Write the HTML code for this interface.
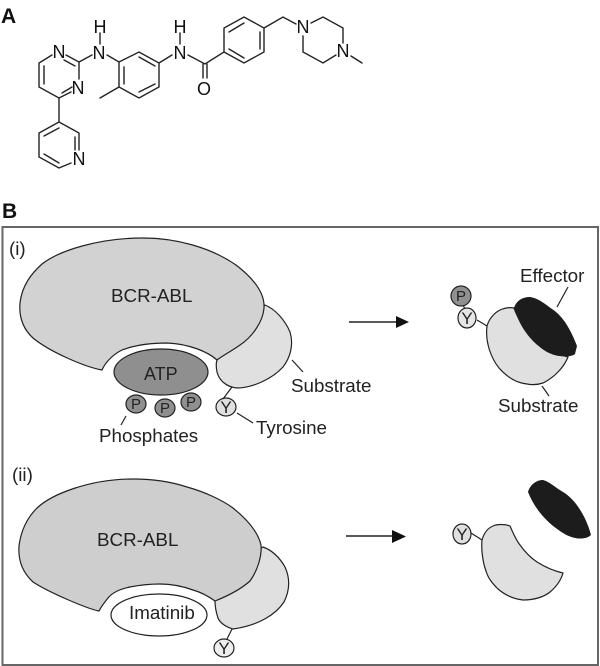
<!DOCTYPE html>
<html><head><meta charset="utf-8"><style>
html,body{margin:0;padding:0;background:#fff}
svg{display:block}
text{font-family:"Liberation Sans",sans-serif;fill:#222}
.t{font-size:18.8px}
.s{font-size:15px;text-anchor:middle}
.m{font-size:18px;text-anchor:middle;fill:#111}
.o{stroke:#222;stroke-width:1.2;stroke-linejoin:round}
.l{stroke:#222;stroke-width:1.2;fill:none}
.b{stroke:#222;stroke-width:1.4;fill:none;stroke-linecap:round}
</style></head><body>
<svg width="600" height="666" viewBox="0 0 600 666" xmlns="http://www.w3.org/2000/svg">
<rect width="600" height="666" fill="#fff"/>
<text x="1" y="23" style="font-size:21px;font-weight:bold;fill:#111">A</text>
<text x="2" y="218" style="font-size:21px;font-weight:bold;fill:#111">B</text>

<!-- molecule -->
<g class="b">
<path d="M52 55L39 63V87L59 98L71 92M66 55L79 62V79"/>
<path d="M44 66V84M64 60L75 66M62 93L72 87"/>
<path d="M79 62L92 55M107 55L119 62L139 52L159 63V87L139 98L119 87V62"/>
<path d="M124 67V84M139 57L155 66M139 92L155 84M119 87L100 98"/>
<path d="M100 33V44M180 33V44M159 63L172 55M188 55L205 64L224 52V28L244 17L264 28V52L244 63L224 52"/>
<path d="M229 32L244 23M260 32V49M229 49L244 58"/>
<path d="M203 64V78M207 64V78"/>
<path d="M264 28L283 17L296 24M311 23L323 17L343 28V43M336 55L323 63L303 52V36M351 56L362 63"/>
<path d="M59 98V122L79 133V150M71 163L59 168L39 157V133L59 122"/>
<path d="M75 137V150M44 136L59 128M44 154L59 163"/>
</g>
<text class="m" x="59" y="58">N</text>
<text class="m" x="78" y="94">N</text>
<text class="m" x="99" y="59">N</text>
<text class="m" x="100" y="33">H</text>
<text class="m" x="180" y="59">N</text>
<text class="m" x="180" y="33">H</text>
<text class="m" x="204" y="95">O</text>
<text class="m" x="303" y="33">N</text>
<text class="m" x="343" y="57">N</text>
<text class="m" x="79" y="165">N</text>

<rect x="2.5" y="227" width="595.5" height="438" fill="none" stroke="#666" stroke-width="2"/>
<text class="t" x="9" y="255">(i)</text>
<text class="t" x="12" y="481">(ii)</text>

<!-- (i) -->
<path class="o" fill="#e0e0e0" d="M265 305C275 309 285 320 290 332C294 345 290 358 283 367C272 379 252 388 237 388C226 387 219 380 217 372C216 367 216 363 217 360L240 330Z"/>
<path class="o" fill="#d2d2d2" d="M102 370C85 367 50 352 33 338C22 328 19 315 20 303C22 285 32 273 42 264C60 250 100 238 143 238C175 238 210 247 236 265C253 278 265 293 264 308C263 322 252 337 240 345C230 352 222 356 217 360C208 352 190 344 167 343C150 343 135 345 122 350C112 355 105 363 102 370Z"/>
<ellipse class="o" fill="#8f8f8f" cx="161" cy="372" rx="47" ry="23"/>
<ellipse class="o" fill="#8f8f8f" cx="136" cy="404" rx="10" ry="9"/>
<ellipse class="o" fill="#8f8f8f" cx="165" cy="408" rx="10" ry="9"/>
<ellipse class="o" fill="#8f8f8f" cx="191" cy="402" rx="10" ry="9"/>
<ellipse class="o" fill="#e0e0e0" cx="226" cy="407" rx="10" ry="9"/>
<path class="l" d="M232 387L223 399M237 413L253 423M126 416L121 425M292 360L303 372"/>
<text class="s" x="136" y="409">P</text>
<text class="s" x="165" y="413">P</text>
<text class="s" x="191" y="407">P</text>
<text class="s" x="226" y="413" style="font-size:17px">Y</text>
<text class="t" x="111" y="302">BCR-ABL</text>
<text class="t" x="144" y="380" style="font-size:18px">ATP</text>
<text class="t" x="99" y="442">Phosphates</text>
<text class="t" x="256" y="434">Tyrosine</text>
<text class="t" x="291" y="392">Substrate</text>

<path class="l" d="M349 322H397" style="stroke-width:1.4"/>
<path d="M396 316L409 322L396 328Z" fill="#111"/>

<path class="o" fill="#e0e0e0" d="M487 326C489 319 494 313 500 310C505 308 510 307 514 308C520 325 540 350 568 357C564 367 555 377 543 383C537 385 532 385 527 384C517 383 507 377 499 368C491 358 485 342 487 326Z"/>
<path d="M514 308C516 301 522 297 530 297C538 298 545 304 552 309C563 316 571 330 577 346L575 354C570 358 556 357 547 352C532 343 520 328 514 308Z" fill="#1c1c1c"/>
<path class="l" d="M477 320L487 326M463 305L465 309M568 287L557 307M542 386L549 396"/>
<ellipse class="o" fill="#909090" cx="461" cy="296" rx="10" ry="10"/>
<ellipse class="o" fill="#e6e6e6" cx="467" cy="318" rx="9" ry="10"/>
<text class="s" x="461" y="301">P</text>
<text class="s" x="467" y="324" style="font-size:17px">Y</text>
<text class="t" x="520" y="282">Effector</text>
<text class="t" x="498" y="412">Substrate</text>

<!-- (ii) -->
<path class="o" fill="#e0e0e0" d="M263 547C272 550 280 558 285 567C290 578 290 590 284 602C276 614 260 625 233 629C226 627 220 623 218 618C216 612 215 606 215 601L240 560Z"/>
<path class="o" fill="#cecece" d="M99 611C88 609 50 593 33 582C22 572 18 560 19 546C21 530 28 517 37 508C52 494 90 479 133 479C155 479 172 482 187 487C205 492 222 500 233 508C248 520 258 532 261 545C262 555 258 570 250 581C240 590 225 597 215 601C208 596 200 592 193 590C182 586 170 584 160 584C150 584 140 585 130 587C120 589 112 593 108 598C104 603 101 607 99 611Z"/>
<ellipse class="o" fill="#fff" cx="159" cy="615" rx="48" ry="21"/>
<ellipse class="o" fill="#eee" cx="224" cy="648" rx="10" ry="9"/>
<path class="l" d="M232 629L227 639"/>
<text class="s" x="224" y="654" style="font-size:17px">Y</text>
<text class="t" x="97" y="546">BCR-ABL</text>
<text class="t" x="129" y="619">Imatinib</text>

<path class="l" d="M346 536H394" style="stroke-width:1.4"/>
<path d="M392 530L406 536.5L392 543Z" fill="#111"/>

<path d="M528 492C530 485 536 480 543 480C550 482 556 488 563 492C575 499 586 516 591 535C586 540 574 540 563 533C550 525 536 512 528 492Z" fill="#1c1c1c"/>
<path class="o" fill="#e0e0e0" d="M482 540C484 533 488 528 493 526C497 524 505 524 510 526C513 533 516 540 520 545C525 552 531 558 537 562C545 567 554 571 563 573C561 580 556 587 550 592C544 597 534 600 523 600C514 599 505 595 498 589C492 583 488 578 486 571C483 563 481 550 482 540Z"/>
<ellipse class="o" fill="#e0e0e0" cx="462" cy="534" rx="9" ry="10"/>
<path class="l" d="M471 533L482 540"/>
<text class="s" x="462" y="540" style="font-size:17px">Y</text>
</svg>
</body></html>
